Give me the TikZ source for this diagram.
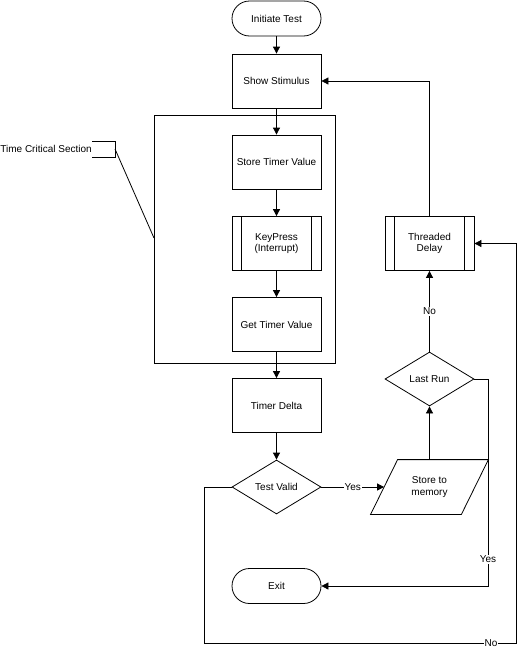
\documentclass[tikz,border=0pt]{standalone}
\usepackage{fontspec}
\setmainfont{Liberation Sans}
\usetikzlibrary{shapes.geometric,arrows.meta}

\begin{document}
\begin{tikzpicture}[x=1pt, y=-1pt, font=\fontsize{10}{11.5}\selectfont, line width=0.8pt,
	box/.style = {draw, minimum width=89pt, minimum height=54pt, inner sep=1pt, align=center},
	term/.style = {draw, rounded corners=17.5pt, minimum width=89pt, minimum height=35pt},
	decide/.style = {draw, diamond, minimum width=89pt, minimum height=54pt, inner sep=0pt},
	sub/.style = {box},
	lbl/.style = {fill=white, inner sep=1pt},
	arr/.style = {-{Triangle[length=7pt,width=7pt]}}]
	\useasboundingbox (0,0) rectangle (520,648);
	% main column
	\node[term] (init) at (276.5, 18.5){Initiate Test};
	\node[box] (stim) at (276.5, 81){Show Stimulus};
	\node[box] (store) at (276.5, 162){Store Timer Value};
	\node[sub] (key) at (276.5, 243.5){KeyPress\\(Interrupt)};
	\node[box] (get) at (276.5, 324.5){Get Timer Value};
	\node[box] (delta) at (276.5, 405.5){Timer Delta};
	\node[decide] (valid) at (276.5, 487){Test Valid};
	\node[term] (exit) at (276.5, 586){Exit};
	% right column
	\node[minimum width=90pt, minimum height=54pt, align=center] (mem) at (429.5, 487){Store to\\memory};
	\node[decide] (last) at (429.5, 379){Last Run};
	\node[sub] (delay) at (429.5, 243.5){Threaded\\Delay};
	% extra shape details
	\draw ([xshift=-13.5pt]mem.south west) -- ([xshift=13.5pt]mem.north west)
		-- ([xshift=13.5pt]mem.north east) -- ([xshift=-13.5pt]mem.south east) -- cycle;
	\foreach \n in {key, delay} {
		\draw ([xshift=10pt]\n.north west) -- ([xshift=10pt]\n.south west);
		\draw ([xshift=-10pt]\n.north east) -- ([xshift=-10pt]\n.south east);
	}
	% time critical section
	\draw (154,115) rectangle (335,363);
	\node[anchor=west, inner sep=0pt] (tcs) at (0,149){Time Critical Section};
	\draw (92,141) -- (115,141) -- (115,157) -- (92,157);
	\coordinate (tcsend) at (154,238);
	\draw (115,149) -- (tcsend);
	% flow
	\draw[arr] (init) -- (stim);
	\draw[arr] (stim) -- (store);
	\draw[arr] (store) -- (key);
	\draw[arr] (key) -- (get);
	\draw[arr] (get) -- (delta);
	\draw[arr] (delta) -- (valid);
	\draw[arr] (valid) -- node[lbl]{Yes} (mem.west);
	\draw[arr] (mem) -- (last);
	\draw[arr] (last) -- node[lbl]{No} (delay);
	\draw[arr] (delay.north) |- (stim.east);
	\coordinate (yes1) at (488,379);
	\coordinate (yes2) at (488,586);
	\draw[arr] (last.east) -- (yes1) -- node[lbl, pos=0.87]{Yes} (yes2) -- (exit.east);
	\coordinate (no1) at (204,487);
	\coordinate (no2) at (204,643.5);
	\coordinate (no3) at (516,643.5);
	\coordinate (no4) at (516,243.5);
	\draw[arr] (valid.west) -- (no1) -- (no2) -- node[lbl, pos=0.92]{No} (no3) -- (no4) -- (delay.east);
\end{tikzpicture}
\end{document}
